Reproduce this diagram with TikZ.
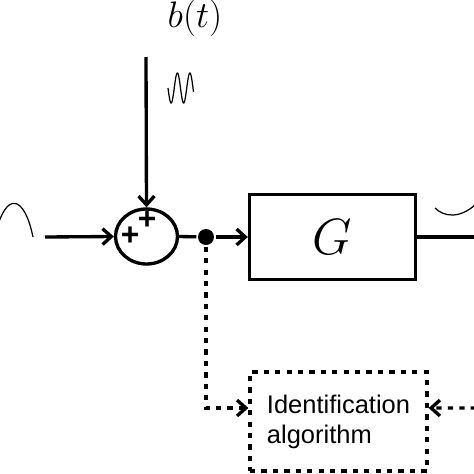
\RequirePackage{fix-cm}
\documentclass[tikz,border=0pt]{standalone}
\usepackage[no-math]{fontspec}
\newfontfamily\identfont{Liberation Sans}
\usetikzlibrary{shapes.geometric,arrows.meta}

\begin{document}
\begin{tikzpicture}[x=0.02cm, y=-0.02cm, line width=1.9pt,
    sig/.style={-{Straight Barb[length=5pt,width=9pt]}},
    dotline/.style={dash pattern=on 3pt off 3.5pt},
    wave/.style={line width=0.7pt},
    plus/.style={font=\identfont\bfseries\fontsize{18}{18}\selectfont, inner sep=0pt}]

      \useasboundingbox (0,0) rectangle (474,474);

      \node[draw, ellipse, minimum width=1.24cm, minimum height=1.1cm, inner sep=0pt] (sum) at (146.5,236.5) {};
      \node[plus] (p1) at (130,236.5) {+};
      \node[plus] (p2) at (147,220.5) {+};
      \node[circle, fill, minimum size=0.32cm, inner sep=0pt] (dot) at (206,237) {};
      \node[draw, minimum width=3.32cm, minimum height=1.7cm, inner sep=0pt,
            font=\fontsize{29}{29}\selectfont] (G) at (332.5,237) {$G$};
      \node[draw, dotline, minimum width=3.54cm, minimum height=1.98cm, align=left,
            font=\identfont\fontsize{14.5}{17}\selectfont] (ident) at (338.5,421.5) {Identification\\algorithm};
      \node[font=\fontsize{21}{21}\selectfont] (blabel) at (195,18) {$b(t)$};

      \coordinate (bin) at (146,57);
      \coordinate (uin) at (45,237);
      \coordinate (yout) at (476,237);
      \coordinate (yfb) at (476,408);

      \draw[sig] (bin) -- (sum.north);
      \draw[sig] (uin) -- (sum.west);
      \draw (sum.east) -- (dot);
      \draw[sig] (dot) -- (G.west);
      \draw (G.east) -- (yout);
      \draw[sig, dotline] (dot) |- ([yshift=0.27cm]ident.west);
      \draw[sig, dotline] (yfb) -- ([yshift=0.27cm]ident.east);

      \draw[wave] (-4,232) .. controls (6,192) and (24,194) .. (33,237);
      \draw[wave, domain=168:193.5, samples=80, smooth, variable=\t] plot (\t, {88+15*sin(360*(\t-168)/12.5)});
      \draw[wave] (435,208) .. controls (444,217) and (460,219) .. (476,204);

    \end{tikzpicture}
\end{document}
